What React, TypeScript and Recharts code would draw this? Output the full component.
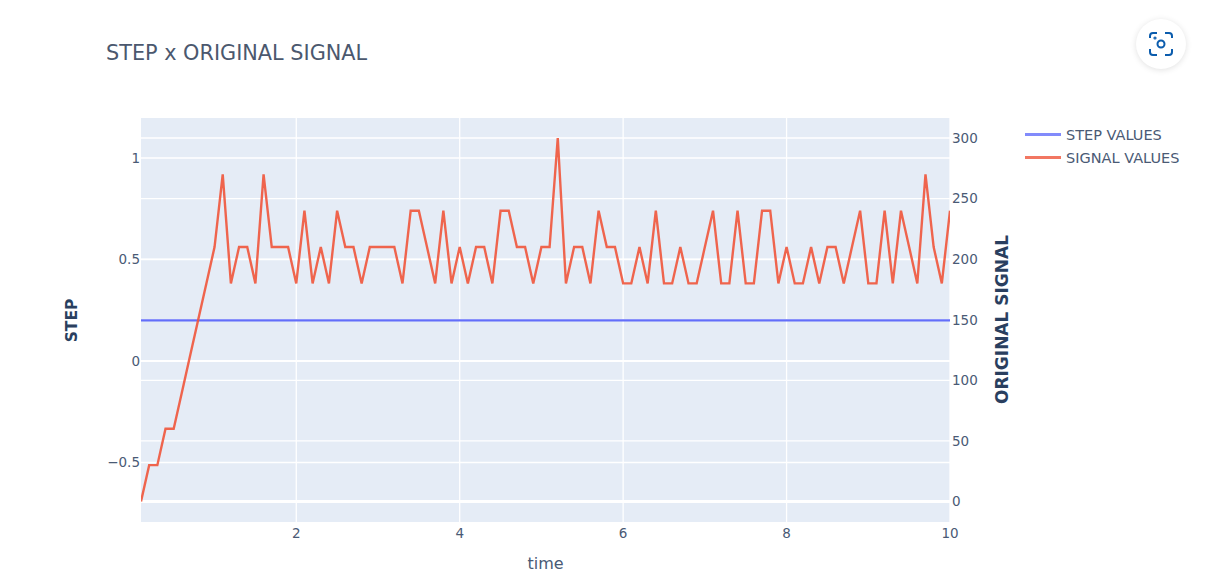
import { CartesianGrid, Legend, Line, LineChart, ReferenceLine, XAxis, YAxis } from "recharts";

const timeTicks = [2, 4, 6, 8, 10];
const stepTicks = [-0.5, 0, 0.5, 1];
const signalTicks = [0, 50, 100, 150, 200, 250, 300];

const signalValues = [
  0, 30, 30, 60, 60, 90, 120, 150, 180, 210,
  270, 180, 210, 210, 180, 270, 210, 210, 210, 180,
  240, 180, 210, 180, 240, 210, 210, 180, 210, 210,
  210, 210, 180, 240, 240, 210, 180, 240, 180, 210,
  180, 210, 210, 180, 240, 240, 210, 210, 180, 210,
  210, 300, 180, 210, 210, 180, 240, 210, 210, 180,
  180, 210, 180, 240, 180, 180, 210, 180, 180, 210,
  240, 180, 180, 240, 180, 180, 240, 240, 180, 210,
  180, 180, 210, 180, 210, 210, 180, 210, 240, 180,
  180, 240, 180, 240, 210, 180, 270, 210, 180, 240,
];
const stepValue = 0.2;

const rows = signalValues.map((signal, i) => ({
  time: (i + 1) / 10,
  step: stepValue,
  signal,
}));

const FONT = '"DejaVu Sans", sans-serif';
const INK = "#2a3f5f";
const tickStyle = { fontFamily: FONT, fontSize: 13.5, fill: "#4a5a75" };

function ChartLegend({ payload }: any) {
  const ordered = [...(payload ?? [])].sort((a: any, b: any) => (a.value < b.value ? 1 : -1));
  return (
    <div style={{ fontFamily: FONT, fontSize: 14.5, color: "#4a5a75", whiteSpace: "nowrap" }}>
      {ordered.map((entry: any) => (
        <div key={entry.value} style={{ display: "flex", alignItems: "center", height: 23 }}>
          <span style={{ width: 36, height: 2.5, background: entry.color, opacity: 0.8, marginRight: 5 }} />
          {entry.value}
        </div>
      ))}
    </div>
  );
}

export default function App() {
  return (
    <div style={{ position: "absolute", left: 0, top: 0, width: 1225, height: 585, background: "#fff" }}>
      <LineChart
        width={1225}
        height={585}
        data={rows}
        margin={{ top: 118, right: 0, bottom: 0, left: 0 }}
      >
        <CartesianGrid yAxisId="step" vertical horizontal fill="#e5ecf6" stroke="#fff" strokeWidth={1.3} syncWithTicks />
        <CartesianGrid yAxisId="signal" vertical={false} horizontal stroke="#fff" strokeWidth={1.3} syncWithTicks />
        <ReferenceLine yAxisId="step" y={0} stroke="#fff" strokeWidth={2} />
        <ReferenceLine yAxisId="signal" y={0} stroke="#fff" strokeWidth={3} />
        <XAxis
          dataKey="time"
          type="number"
          domain={[0.1, 10]}
          ticks={timeTicks}
          allowDataOverflow
          axisLine={false}
          tickLine={false}
          tickSize={0}
          tickMargin={6}
          height={63}
          tick={tickStyle}
        />
        <YAxis
          yAxisId="step"
          width={141}
          domain={[-0.793, 1.197]}
          ticks={stepTicks}
          allowDataOverflow
          axisLine={false}
          tickLine={false}
          tickSize={0}
          tickMargin={1}
          tick={tickStyle}
          tickFormatter={(v: number) => String(v).replace("-", "\u2212")}
        />
        <YAxis
          yAxisId="signal"
          orientation="right"
          width={275}
          domain={[-16.9, 316.5]}
          ticks={signalTicks}
          allowDataOverflow
          axisLine={false}
          tickLine={false}
          tickSize={0}
          tickMargin={2}
          tick={tickStyle}
        />
        <Line
          yAxisId="step"
          dataKey="step"
          name="STEP VALUES"
          stroke="#636efa"
          strokeWidth={2.2}
          dot={false}
          isAnimationActive={false}
        />
        <Line
          yAxisId="signal"
          dataKey="signal"
          name="SIGNAL VALUES"
          type="linear"
          stroke="#ef553b"
          strokeWidth={2.4}
          strokeOpacity={0.9}
          dot={false}
          isAnimationActive={false}
        />
        <Legend
          layout="vertical"
          align="center"
          verticalAlign="middle"
          content={<ChartLegend />}
          wrapperStyle={{ position: "absolute", left: 1025, top: 123, width: 190 }}
        />
        <text x={106} y={60} fontFamily={FONT} fontSize={20.8} fill="#4b586e">
          STEP x ORIGINAL SIGNAL
        </text>
        <text x={545.5} y={569} textAnchor="middle" fontFamily={FONT} fontSize={16} fill="#4a5a75">
          time
        </text>
        <text
          transform="translate(77,320.5) rotate(-90)"
          textAnchor="middle"
          fontFamily={FONT}
          fontSize={15.5}
          fontWeight={700}
          fill={INK}
        >
          STEP
        </text>
        <text
          transform="translate(1008,319.5) rotate(-90)"
          textAnchor="middle"
          fontFamily={FONT}
          fontSize={17}
          fontWeight={700}
          fill={INK}
        >
          ORIGINAL SIGNAL
        </text>
      </LineChart>
      <div
        style={{
          position: "absolute",
          left: 1136,
          top: 19,
          width: 50,
          height: 50,
          borderRadius: "50%",
          background: "#fff",
          boxShadow: "0 1px 6px rgba(0,0,0,0.12)",
        }}
      >
        <svg width={50} height={50} viewBox="0 0 50 50" fill="none" stroke="#0b5cad" strokeWidth={2}>
          <path d="M14 19v-2a3 3 0 0 1 3-3h4M29 14h4a3 3 0 0 1 3 3v2M36 30v3a3 3 0 0 1-3 3h-4M21 36h-4a3 3 0 0 1-3-3v-3" />
          <circle cx={25} cy={25} r={3.5} />
          <circle cx={19} cy={19} r={0.6} />
        </svg>
      </div>
    </div>
  );
}
